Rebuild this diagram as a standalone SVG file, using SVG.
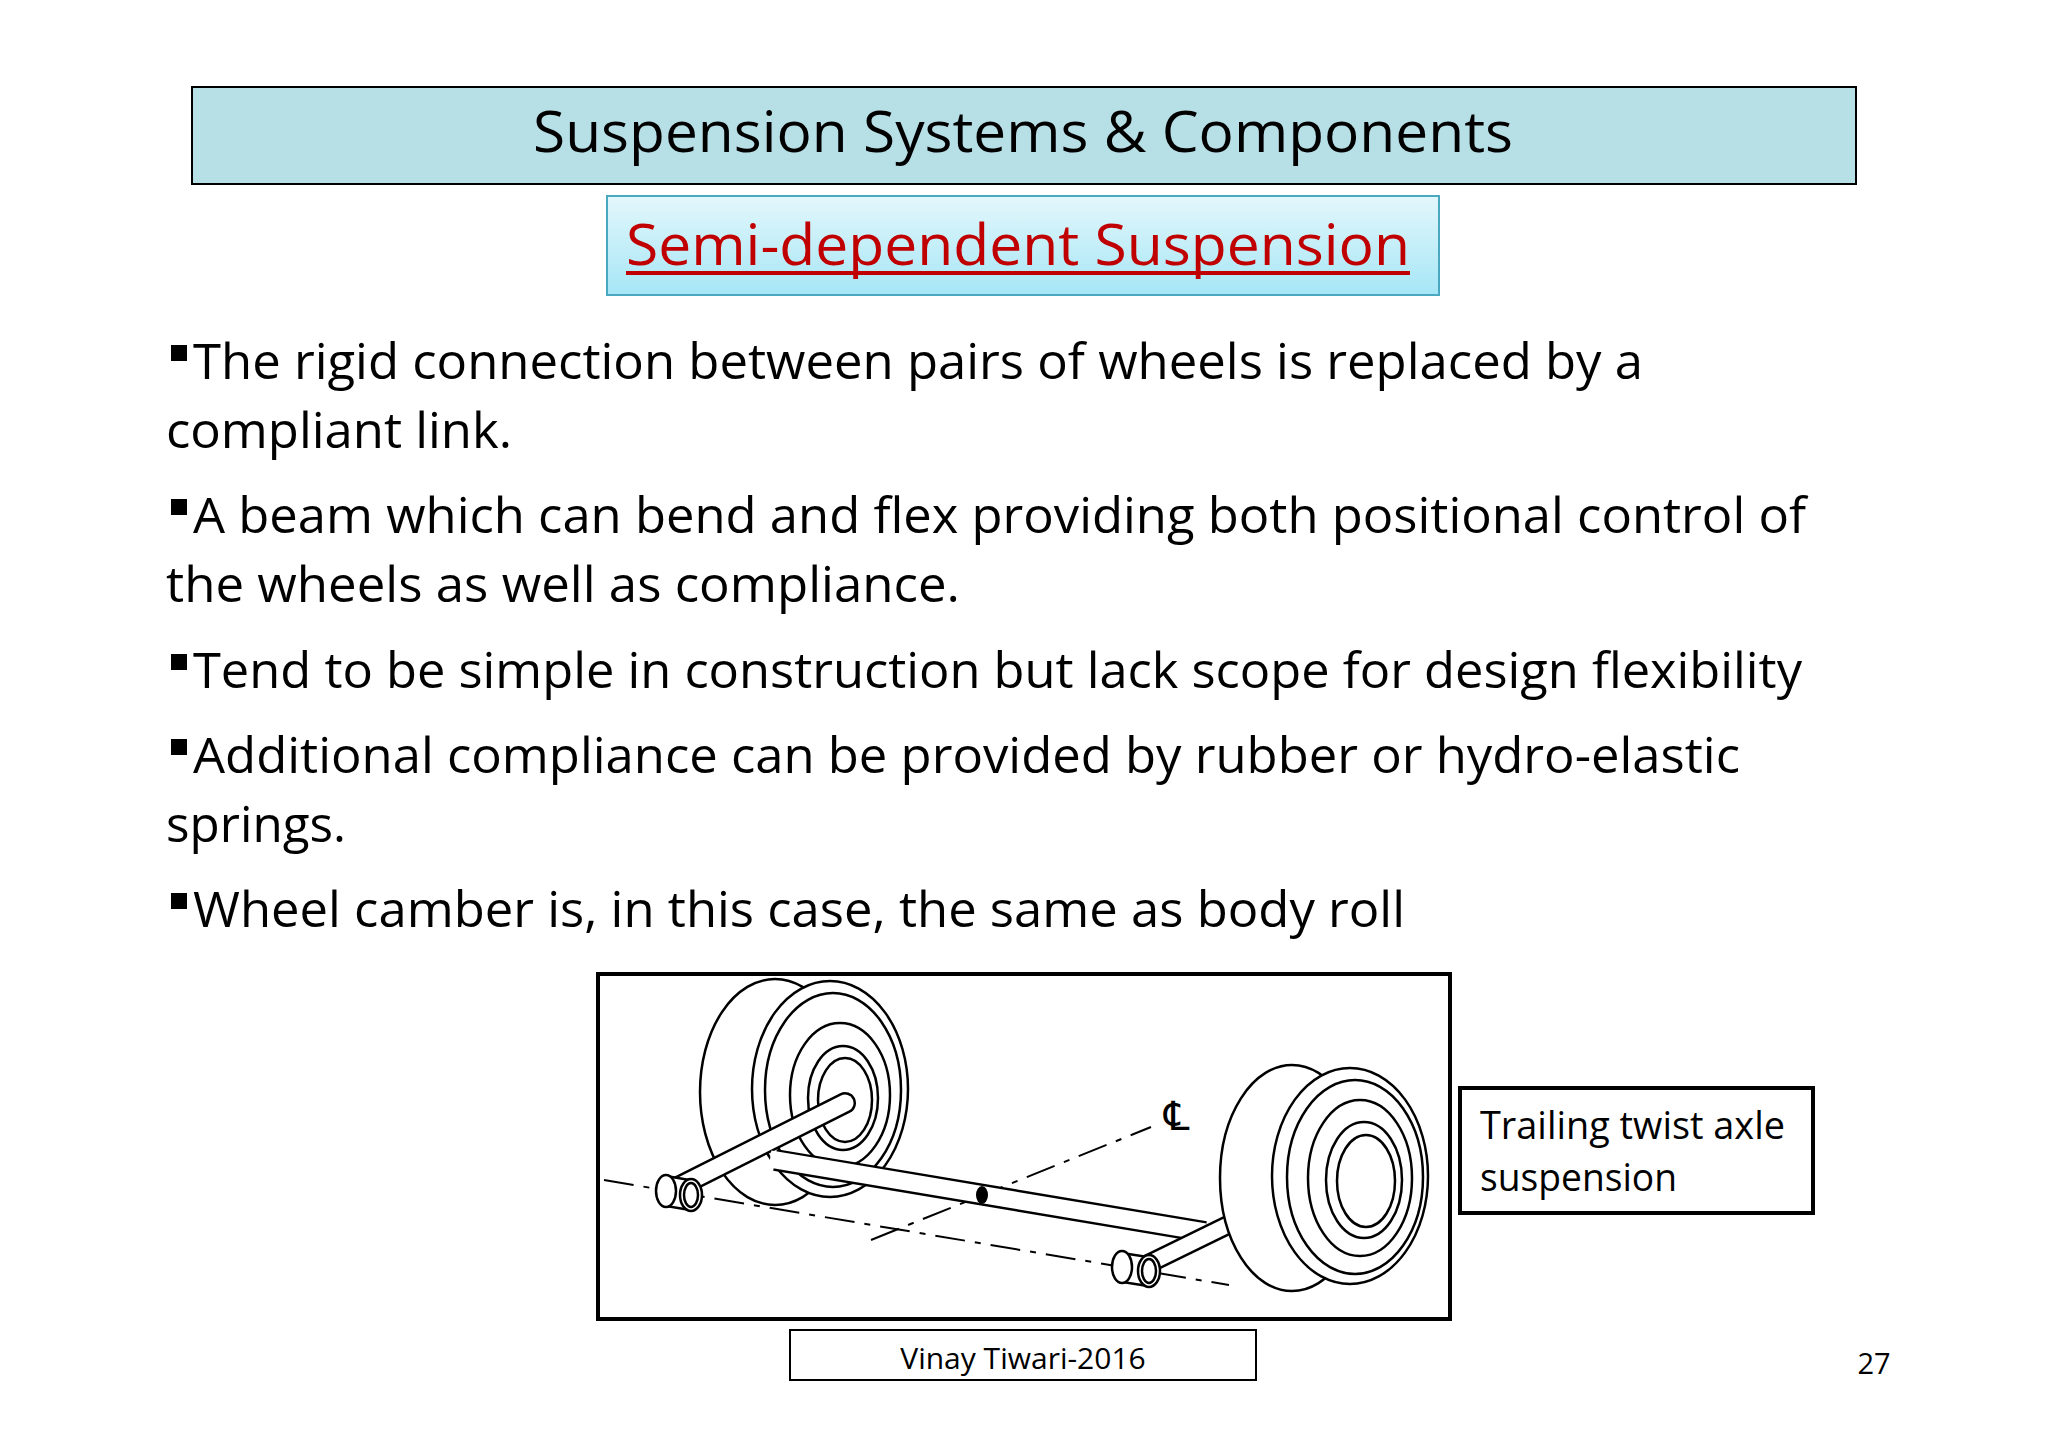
<svg xmlns="http://www.w3.org/2000/svg" width="2048" height="1448" viewBox="0 0 2048 1448">
<defs>
<linearGradient id="sg" x1="0" y1="0" x2="0" y2="1"><stop offset="0" stop-color="#e3f7fb"/><stop offset="1" stop-color="#a6e6f6"/></linearGradient>
<style>
.t{font-family:"Open Sans","Liberation Sans",sans-serif;fill:#000}
.b{font-size:50px}
.l{fill:none;stroke:#000;stroke-width:2.5}
.w{fill:#fff;stroke:#000;stroke-width:2.5}
.d{fill:none;stroke:#000;stroke-width:2;stroke-dasharray:30 10 6 10}
</style>
</defs>
<rect width="2048" height="1448" fill="#fff"/>
<g id="header">
<rect x="192" y="87" width="1664" height="97" fill="#b7dfe6" stroke="#000" stroke-width="2"/>
<text class="t" x="1023" y="152" font-size="56" text-anchor="middle" textLength="980" lengthAdjust="spacingAndGlyphs">Suspension Systems &amp; Components</text>
</g>
<g id="subtitle">
<rect x="607" y="196" width="832" height="99" fill="url(#sg)" stroke="#4aa8c0" stroke-width="2"/>
<text class="t" x="626" y="265" font-size="56" style="fill:#c00000" textLength="784" lengthAdjust="spacingAndGlyphs">Semi-dependent Suspension</text>
<rect x="626" y="271" width="784" height="4" fill="#c00000"/>
</g>
<g id="bullets" class="t b">
<rect x="171" y="345" width="16" height="16"/>
<text x="193" y="379" textLength="1450" lengthAdjust="spacingAndGlyphs">The rigid connection between pairs of wheels is replaced by a</text>
<text x="166" y="448" textLength="346" lengthAdjust="spacingAndGlyphs">compliant link.</text>
<rect x="171" y="499" width="16" height="16"/>
<text x="193" y="533" textLength="1613" lengthAdjust="spacingAndGlyphs">A beam which can bend and flex providing both positional control of</text>
<text x="166" y="602" textLength="794" lengthAdjust="spacingAndGlyphs">the wheels as well as compliance.</text>
<rect x="171" y="654" width="16" height="16"/>
<text x="193" y="688" textLength="1609" lengthAdjust="spacingAndGlyphs">Tend to be simple in construction but lack scope for design flexibility</text>
<rect x="171" y="739" width="16" height="16"/>
<text x="193" y="773" textLength="1547" lengthAdjust="spacingAndGlyphs">Additional compliance can be provided by rubber or hydro-elastic</text>
<text x="166" y="842" textLength="180" lengthAdjust="spacingAndGlyphs">springs.</text>
<rect x="171" y="893" width="16" height="16"/>
<text x="193" y="927" textLength="1212" lengthAdjust="spacingAndGlyphs">Wheel camber is, in this case, the same as body roll</text>
</g>
<g id="drawing">
<rect x="598" y="974" width="852" height="345" fill="#fff" stroke="#000" stroke-width="4"/>
<line class="d" x1="604" y1="1180" x2="1229" y2="1285"/>
<line class="d" x1="871" y1="1240" x2="1151" y2="1127"/>
<text x="1164" y="1130" font-family="DejaVu Sans,sans-serif" font-size="40">℄</text>
<ellipse class="w" cx="775" cy="1092" rx="75" ry="113"/>
<ellipse class="w" cx="830" cy="1089" rx="78" ry="108"/>
<ellipse class="l" cx="833" cy="1090" rx="68" ry="97"/>
<ellipse class="l" cx="840" cy="1095" rx="50" ry="72"/>
<ellipse class="l" cx="843" cy="1098" rx="35" ry="52"/>
<ellipse class="l" cx="845" cy="1100" rx="27" ry="42"/>
<polyline points="680,1186 845,1103" fill="none" stroke="#000" stroke-width="22" stroke-linecap="round"/>
<polyline points="680,1186 845,1103" fill="none" stroke="#fff" stroke-width="17" stroke-linecap="round"/>
<polyline points="775,1160 1205,1232" fill="none" stroke="#000" stroke-width="22"/>
<polyline points="770,1159 1205,1232" fill="none" stroke="#fff" stroke-width="17"/>
<polyline points="1140,1268 1230,1224" fill="none" stroke="#000" stroke-width="20"/>
<polyline points="1140,1268 1232,1223" fill="none" stroke="#fff" stroke-width="15"/>
<ellipse cx="982" cy="1195" rx="6" ry="9" fill="#000"/>
<path class="w" d="M666,1176 L690,1180 L690,1210 L666,1206 Z"/>
<ellipse class="w" cx="666" cy="1191" rx="10" ry="16"/>
<ellipse class="w" cx="691" cy="1195" rx="11" ry="16"/>
<ellipse class="l" cx="691" cy="1195" rx="7" ry="12"/>
<path class="w" d="M1122,1253 L1148,1257 L1148,1286 L1122,1282 Z"/>
<ellipse class="w" cx="1122" cy="1267" rx="10" ry="16"/>
<ellipse class="w" cx="1149" cy="1271" rx="11" ry="16"/>
<ellipse class="l" cx="1149" cy="1271" rx="7" ry="12"/>
<ellipse class="w" cx="1292" cy="1178" rx="72" ry="113"/>
<ellipse class="w" cx="1350" cy="1176" rx="78" ry="108"/>
<ellipse class="l" cx="1355" cy="1177" rx="68" ry="97"/>
<ellipse class="l" cx="1360" cy="1178" rx="52" ry="78"/>
<ellipse class="l" cx="1364" cy="1180" rx="38" ry="58"/>
<ellipse class="l" cx="1366" cy="1181" rx="29" ry="46"/>
</g>
<g id="label">
<rect x="1460" y="1088" width="353" height="125" fill="#fff" stroke="#000" stroke-width="4"/>
<text class="t" x="1480" y="1139" font-size="38" textLength="305" lengthAdjust="spacingAndGlyphs">Trailing twist axle</text>
<text class="t" x="1480" y="1191" font-size="38" textLength="197" lengthAdjust="spacingAndGlyphs">suspension</text>
</g>
<g id="footer">
<rect x="790" y="1330" width="466" height="50" fill="#fff" stroke="#000" stroke-width="2"/>
<text class="t" x="1023" y="1369" font-size="30" text-anchor="middle">Vinay Tiwari-2016</text>
<text class="t" x="1874" y="1374" font-size="29" text-anchor="middle">27</text>
</g>
</svg>
